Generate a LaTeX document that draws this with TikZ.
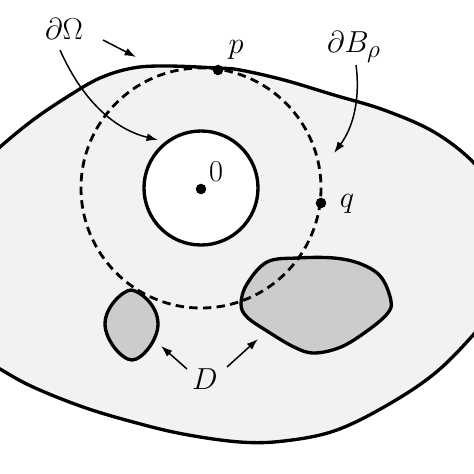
\documentclass[tikz,border=0pt]{standalone}
\usetikzlibrary{arrows.meta}
\definecolor{domfill}{gray}{0.95}
\definecolor{blobfill}{gray}{0.8}
\tikzset{
  bound/.style={line width=1.9pt, line join=round},
  dashcirc/.style={line width=1.6pt, dash pattern=on 4.8pt off 3pt},
  lbl/.style={font=\fontsize{19}{22}\selectfont, inner sep=0pt},
  pointer/.style={line width=0.85pt, -{Latex[length=6.5pt,width=4.5pt]}},
  dotpt/.style={circle, fill=black, inner sep=0pt, minimum size=6pt}
}
\begin{document}
\begin{tikzpicture}[x=0.02cm,y=-0.02cm]
\useasboundingbox (0,0) rectangle (474,474);
\begin{scope}
\clip (0,0) rectangle (474,474);
% domain
\path[fill=domfill] plot[smooth, tension=0.6] coordinates {(-30,175) (0,147) (33,120) (67,97) (100,78) (133,68) (167,66) (217,68) (240,70) (284,80) (334,95) (384,110) (434,132) (474,163) (500,200)}
  -- (500,300) -- plot[smooth, tension=0.6] coordinates {(500,300) (474,334) (434,374) (384,407) (334,431) (284,441) (240,442) (183,434) (133,422) (83,407) (33,387) (0,369) (-30,350)} -- cycle;
% blobs
\draw[bound, fill=blobfill] plot[smooth cycle, tension=0.6] coordinates {(241,304) (247,284) (267,262) (297,258) (334,258) (361,264) (381,277) (391,301) (387,314) (367,331) (341,347) (314,353) (294,347) (267,331) (247,317)};
\draw[bound, fill=blobfill] (131,290) .. controls (138,290) and (158,304) .. (158,324)
  .. controls (158,340) and (142,360) .. (132,360)
  .. controls (122,360) and (105,340) .. (105,324)
  .. controls (105,306) and (124,290) .. (131,290) -- cycle;
% inner hole
\draw[bound, fill=white] (201,188) circle (57);
% dashed circle
\draw[dashcirc] (201,188) circle (120);
% outer boundary
\draw[bound] plot[smooth, tension=0.6] coordinates {(-30,175) (0,147) (33,120) (67,97) (100,78) (133,68) (167,66) (217,68) (240,70) (284,80) (334,95) (384,110) (434,132) (474,163) (500,200)};
\draw[bound] plot[smooth, tension=0.6] coordinates {(500,300) (474,334) (434,374) (384,407) (334,431) (284,441) (240,442) (183,434) (133,422) (83,407) (33,387) (0,369) (-30,350)};
\end{scope}
% points
\node[dotpt] (o) at (201,189) {};
\node[dotpt] (p) at (218,70) {};
\node[dotpt] (q) at (321,203) {};
\node[lbl] (olab) at (216,172) {$0$};
\node[lbl] (plab) at (236,50) {$p$};
\node[lbl] (qlab) at (347,204) {$q$};
% labels
\node[lbl] (om) at (64,29) {$\partial\Omega$};
\node[lbl] (br) at (354,47) {$\partial B_\rho$};
\node[lbl] (D) at (205,379) {$D$};
% pointers
\coordinate (a1s) at (103,40);
\coordinate (a1e) at (136,57);
\coordinate (a2s) at (60,50);
\coordinate (a2e) at (158,140);
\coordinate (a3s) at (356,65);
\coordinate (a3e) at (334,153);
\coordinate (a4s) at (187,369);
\coordinate (a4e) at (161,346);
\coordinate (a5s) at (227,367);
\coordinate (a5e) at (258,339);
\draw[pointer] (a1s) -- (a1e);
\draw[pointer] (a2s) .. controls (80,95) and (110,128) .. (a2e);
\draw[pointer] (a3s) .. controls (360,95) and (355,125) .. (a3e);
\draw[pointer] (a4s) -- (a4e);
\draw[pointer] (a5s) -- (a5e);
\end{tikzpicture}
\end{document}
